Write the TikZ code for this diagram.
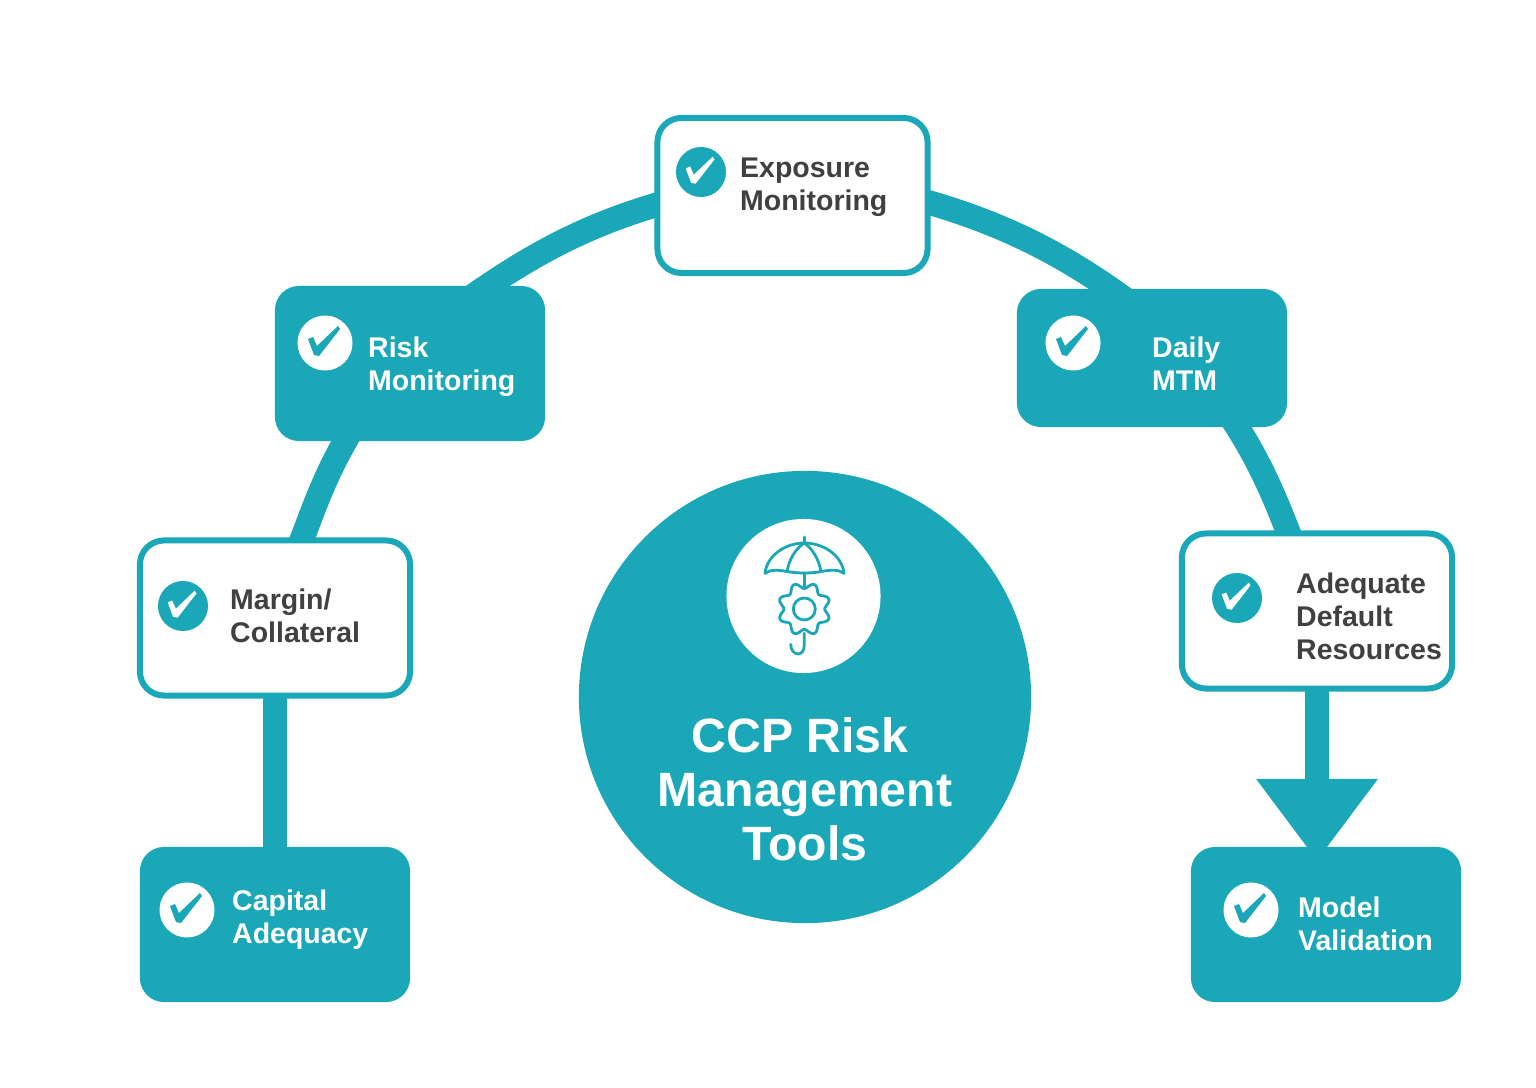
\documentclass[tikz,border=0pt]{standalone}
\usepackage{fontspec}
\setmainfont{Liberation Sans}
\usetikzlibrary{arrows.meta,backgrounds}
\definecolor{ccpteal}{HTML}{1AA7B7}
\definecolor{ccpgray}{HTML}{404040}
\tikzset{
  outlinebox/.style={draw=ccpteal,line width=0.06cm,fill=white,rounded corners=0.24cm,minimum width=2.7cm,minimum height=1.55cm},
  filledbox/.style={fill=ccpteal,rounded corners=0.24cm,minimum width=2.7cm,minimum height=1.55cm},
  darklabel/.style={anchor=west,align=left,inner sep=0pt,text=ccpgray,font=\fontsize{8.1}{9.4}\selectfont\bfseries},
  lightlabel/.style={anchor=west,align=left,inner sep=0pt,text=white,font=\fontsize{8.1}{9.4}\selectfont\bfseries},
  tealdot/.style={circle,fill=ccpteal,inner sep=0pt,minimum size=0.5cm},
  whitedot/.style={circle,fill=white,inner sep=0pt,minimum size=0.55cm},
  link/.style={draw=ccpteal,line width=0.245cm,shorten <=-0.2cm,shorten >=-0.2cm,looseness=0.85},
  tickmark/.pic={\fill[#1,line join=round] (-17,4) -- (-12,6) -- (-8,-3) -- (13,17) -- (15,14) -- (-6,-13) -- (-11,-12) -- cycle;},
  iconline/.style={draw=ccpteal,line width=0.028cm,line cap=round,line join=round}
}
\begin{document}
\begin{tikzpicture}[x=0.01cm,y=0.01cm]
\useasboundingbox (0,0) rectangle (1536,1087);
%%% the boxes along the arc
\node[outlinebox] (exposure) at (792.5,891.5) {};
\node[filledbox] (risk) at (410,723.5) {};
\node[filledbox,minimum height=1.38cm] (daily) at (1152,729) {};
\node[outlinebox] (margin) at (275,469) {};
\node[outlinebox] (adequate) at (1317,476) {};
\node[filledbox] (capital) at (275,162.5) {};
\node[filledbox] (model) at (1326,162.5) {};
%%% the tick marks
\node[tealdot] (exposuredot) at (701,915) {};
\pic[scale=0.9] at (exposuredot) {tickmark=white};
\node[whitedot] (riskdot) at (325,744) {};
\pic at (riskdot) {tickmark=ccpteal};
\node[whitedot] (dailydot) at (1073,744) {};
\pic at (dailydot) {tickmark=ccpteal};
\node[tealdot] (margindot) at (183,481) {};
\pic[scale=0.9] at (margindot) {tickmark=white};
\node[tealdot] (adequatedot) at (1237,489) {};
\pic[scale=0.9] at (adequatedot) {tickmark=white};
\node[whitedot] (capitaldot) at (187,177) {};
\pic at (capitaldot) {tickmark=ccpteal};
\node[whitedot] (modeldot) at (1251,177) {};
\pic at (modeldot) {tickmark=ccpteal};
%%% the labels
\node[darklabel] (exposuretext) at (739.5,900) {Exposure\\Monitoring};
\node[lightlabel] (risktext) at (367.5,720.5) {Risk\\Monitoring};
\node[lightlabel] (dailytext) at (1151.5,723) {Daily\\MTM};
\node[darklabel] (margintext) at (229.5,471) {Margin/\\Collateral};
\node[darklabel] (adequatetext) at (1295.5,471) {Adequate\\Default\\Resources};
\node[lightlabel] (capitaltext) at (231.5,167) {Capital\\Adequacy};
\node[lightlabel] (modeltext) at (1297.5,163) {Model\\Validation};
%%% the centre
\node[circle,fill=ccpteal,minimum size=4.52cm,inner sep=0pt] (ccp) at (805,390) {};
\node[circle,fill=white,minimum size=1.54cm,inner sep=0pt] (icon) at (803.5,491) {};
\node[align=center,inner sep=0pt,text=white,font=\fontsize{13.7}{15.4}\selectfont\bfseries] (ccptext) at (805,297.5) {CCP Risk\kern0.1cm\\Management\\Tools};
%%% umbrella
\draw[iconline] (804.3,550) -- (804.3,543.5);
\draw[iconline] (765,513.7) .. controls (767,532) and (786,544) .. (804.3,544) .. controls (823,544) and (842,532) .. (844,513.7);
\draw[iconline] (765,513.7) .. controls (771,518) and (778,517) .. (787,515.5) .. controls (798,513.5) and (811,513.5) .. (821,515.5) .. controls (830,517) and (838,518) .. (844,513.7);
\draw[iconline] (804.3,544) .. controls (795,538) and (789,527) .. (787,515.5);
\draw[iconline] (804.3,544) .. controls (813,538) and (819,527) .. (821,515.5);
\draw[iconline] (804.3,514) -- (804.3,500);
%%% gear
\draw[iconline,shift={(804.3,478)}] plot[domain=0:360,samples=145] (\x:{23.4-3*cos(8*\x)});
\draw[iconline] (804.3,478) circle (11);
%%% handle
\draw[iconline] (804.3,453.7) -- (804.3,442) .. controls (804.3,429) and (790.7,431) .. (790.7,442.7);
%%% connectors
\begin{pgfonlayer}{background}
\draw[link] (risk.45) to[out=35,in=195] (exposure.184);
\draw[link] (exposure.-3) to[out=-15,in=144] (daily.121);
\draw[link] (risk.230) to[out=-122,in=69] (margin.71);
\draw[link] (daily.-39) to[out=-56,in=111] (adequate.110);
\draw[link] (margin) -- (capital);
\draw[link,shorten >=0.635cm,-{Triangle[width=1.16cm,length=0.82cm]}] (adequate.south) -- (adequate.south |- model.center);
\end{pgfonlayer}
\end{tikzpicture}
\end{document}
